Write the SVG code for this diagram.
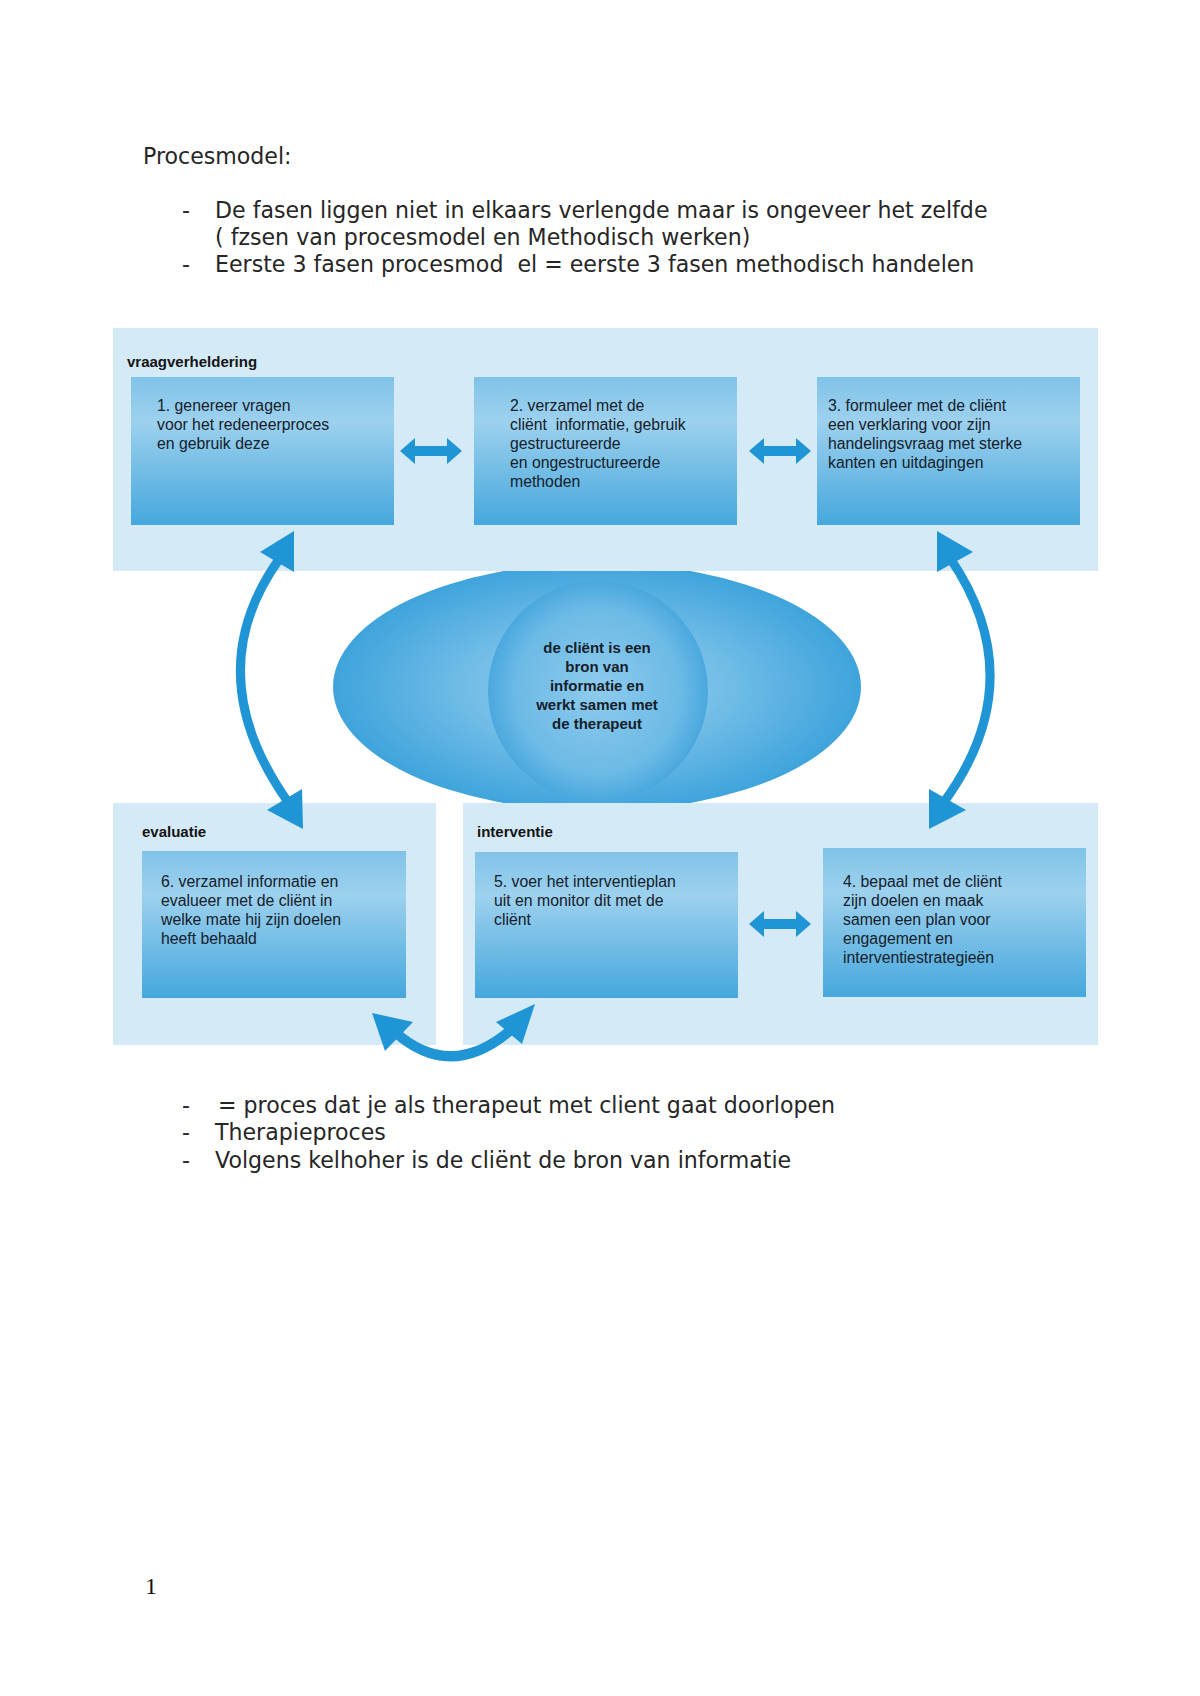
<svg xmlns="http://www.w3.org/2000/svg" width="1200" height="1696" viewBox="0 0 1200 1696">
<style>
.doc{font-family:"DejaVu Sans",Verdana,sans-serif;font-size:22.1px;fill:#262626}
.band{fill:#d4eaf6}
.box{fill:url(#boxGrad)}
.lbl{font-family:"Liberation Sans",Arial,sans-serif;font-weight:bold;font-size:15px;fill:#141414}
.bt{font-family:"Liberation Sans",Arial,sans-serif;font-size:15.8px;fill:#16202a}
.ct{font-family:"Liberation Sans",Arial,sans-serif;font-weight:bold;font-size:15px;fill:#16202a;text-anchor:middle}
.head{fill:#1f95d5}
.shaft{fill:none;stroke:#1f95d5;stroke-width:9;stroke-linecap:butt}
</style>
<defs>
<linearGradient id="boxGrad" x1="0" y1="0" x2="0" y2="1">
<stop offset="0" stop-color="#80c3e8"/>
<stop offset="0.3" stop-color="#9dd1ee"/>
<stop offset="1" stop-color="#45a7dd"/>
</linearGradient>
<radialGradient id="outerGrad" cx="0.5" cy="0.5" r="0.5">
<stop offset="0" stop-color="#8fcdee"/>
<stop offset="0.45" stop-color="#76bfe8"/>
<stop offset="1" stop-color="#3fa4dc"/>
</radialGradient>
<radialGradient id="innerGrad" cx="0.5" cy="0.5" r="0.5">
<stop offset="0" stop-color="#8ecbed"/>
<stop offset="0.75" stop-color="#6cbae6"/>
<stop offset="1" stop-color="#4aa8de"/>
</radialGradient>
<clipPath id="midClip"><rect x="100" y="571" width="1000" height="232"/></clipPath>
<path id="dblArrow" d="M -31 0 L -16 -13 L -16 -5 L 16 -5 L 16 -13 L 31 0 L 16 13 L 16 5 L -16 5 L -16 13 Z"/>
</defs>

<g id="header-text">
<text class="doc" x="143" y="164">Procesmodel:</text>
<text class="doc" x="182" y="218">-</text>
<text class="doc" x="215" y="218">De fasen liggen niet in elkaars verlengde maar is ongeveer het zelfde</text>
<text class="doc" x="215" y="245">( fzsen van procesmodel en Methodisch werken)</text>
<text class="doc" x="182" y="272">-</text>
<text class="doc" x="215" y="272" xml:space="preserve">Eerste 3 fasen procesmod  el = eerste 3 fasen methodisch handelen</text>
</g>

<g id="bands">
<rect class="band" x="113" y="328" width="985" height="243"/>
<rect class="band" x="113" y="803" width="323" height="242"/>
<rect class="band" x="463" y="803" width="635" height="242"/>
</g>

<g id="phase-vraagverheldering">
<text class="lbl" x="127" y="367">vraagverheldering</text>
</g>
<g id="phase-evaluatie">
<text class="lbl" x="142" y="837">evaluatie</text>
</g>
<g id="phase-interventie">
<text class="lbl" x="477" y="837">interventie</text>
</g>

<g id="center">
<g clip-path="url(#midClip)">
<ellipse cx="597" cy="687" rx="264" ry="124" fill="url(#outerGrad)"/>
</g>
<circle cx="598" cy="691" r="110" fill="url(#innerGrad)"/>
<text class="ct" x="597" y="653">de cliënt is een</text>
<text class="ct" x="597" y="672">bron van</text>
<text class="ct" x="597" y="691">informatie en</text>
<text class="ct" x="597" y="710">werkt samen met</text>
<text class="ct" x="597" y="729">de therapeut</text>
</g>

<g id="node1">
<rect class="box" x="131" y="377" width="263" height="148"/>
<text class="bt" x="157" y="411">1. genereer vragen</text>
<text class="bt" x="157" y="430">voor het redeneerproces</text>
<text class="bt" x="157" y="449">en gebruik deze</text>
</g>
<g id="node2">
<rect class="box" x="474" y="377" width="263" height="148"/>
<text class="bt" x="510" y="411">2. verzamel met de</text>
<text class="bt" x="510" y="430" xml:space="preserve">cliënt  informatie, gebruik</text>
<text class="bt" x="510" y="449">gestructureerde</text>
<text class="bt" x="510" y="468">en ongestructureerde</text>
<text class="bt" x="510" y="487">methoden</text>
</g>
<g id="node3">
<rect class="box" x="817" y="377" width="263" height="148"/>
<text class="bt" x="828" y="411">3. formuleer met de cliënt</text>
<text class="bt" x="828" y="430">een verklaring voor zijn</text>
<text class="bt" x="828" y="449">handelingsvraag met sterke</text>
<text class="bt" x="828" y="468">kanten en uitdagingen</text>
</g>
<g id="node6">
<rect class="box" x="142" y="851" width="264" height="147"/>
<text class="bt" x="161" y="887">6. verzamel informatie en</text>
<text class="bt" x="161" y="906">evalueer met de cliënt in</text>
<text class="bt" x="161" y="925">welke mate hij zijn doelen</text>
<text class="bt" x="161" y="944">heeft behaald</text>
</g>
<g id="node5">
<rect class="box" x="475" y="852" width="263" height="146"/>
<text class="bt" x="494" y="887">5. voer het interventieplan</text>
<text class="bt" x="494" y="906">uit en monitor dit met de</text>
<text class="bt" x="494" y="925">cliënt</text>
</g>
<g id="node4">
<rect class="box" x="823" y="848" width="263" height="149"/>
<text class="bt" x="843" y="887">4. bepaal met de cliënt</text>
<text class="bt" x="843" y="906">zijn doelen en maak</text>
<text class="bt" x="843" y="925">samen een plan voor</text>
<text class="bt" x="843" y="944">engagement en</text>
<text class="bt" x="843" y="963">interventiestrategieën</text>
</g>

<g id="connectors">
<use href="#dblArrow" class="head" transform="translate(431 451)"/>
<use href="#dblArrow" class="head" transform="translate(780 451)"/>
<use href="#dblArrow" class="head" transform="translate(780 924)"/>
<path class="shaft" d="M 280 558 Q 197 673 288 802"/>
<polygon class="head" points="294,531 260,552 294,572"/>
<polygon class="head" points="303,829 267,810 302,789"/>
<path class="shaft" d="M 950 558 Q 1033 680 944 802"/>
<polygon class="head" points="937,531 973,552 937,572"/>
<polygon class="head" points="929,829 966,810 929,789"/>
<path class="shaft" style="stroke-width:10" d="M 395 1032 Q 451 1082 512 1029"/>
<polygon class="head" points="372,1013 413,1022 385,1051"/>
<polygon class="head" points="535,1004 496,1022 522,1044"/>
</g>

<g id="footer-text">
<text class="doc" x="182" y="1113">-</text>
<text class="doc" x="218" y="1113">= proces dat je als therapeut met client gaat doorlopen</text>
<text class="doc" x="182" y="1140">-</text>
<text class="doc" x="215" y="1140">Therapieproces</text>
<text class="doc" x="182" y="1168">-</text>
<text class="doc" x="215" y="1168">Volgens kelhoher is de cliënt de bron van informatie</text>
<text x="145" y="1594" style="font-family:'Liberation Serif','Times New Roman',serif;font-size:24px;fill:#111">1</text>
</g>
</svg>
